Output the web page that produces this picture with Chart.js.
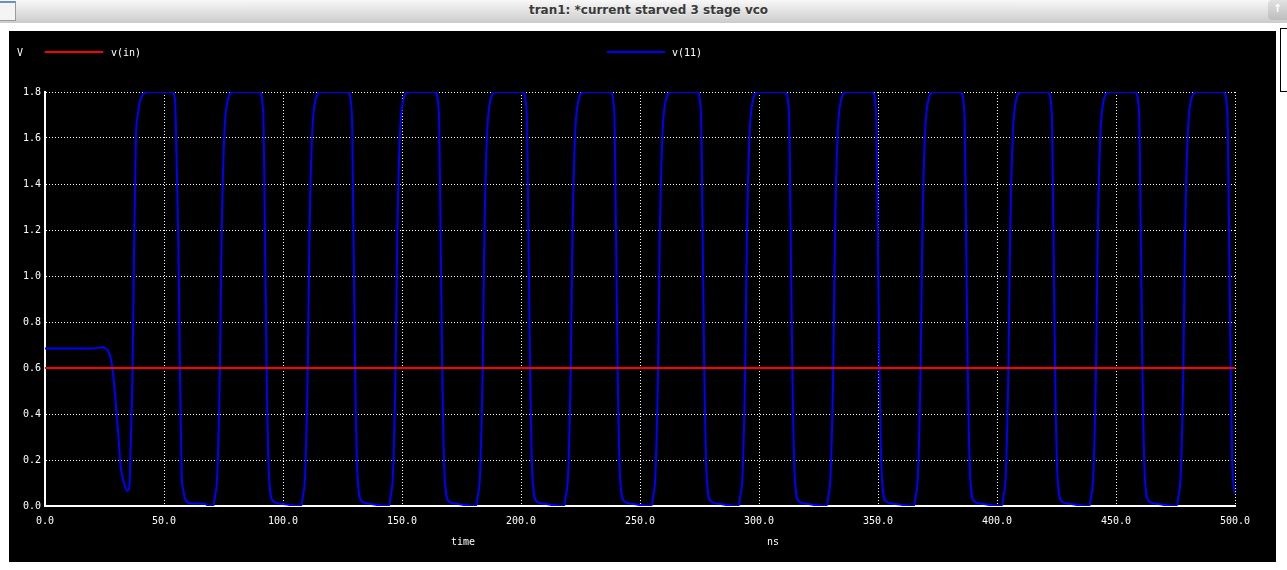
<!DOCTYPE html>
<html>
<head>
<meta charset="utf-8">
<title>tran1: *current starved 3 stage vco</title>
<script src="https://cdn.jsdelivr.net/npm/chart.js@4.4.1/dist/chart.umd.min.js"></script>
<style>
  html, body { margin: 0; padding: 0; background: #fff; width: 1287px; height: 570px; overflow: hidden; }
  #titlebar {
    position: absolute; left: 0; top: 0; width: 1287px; height: 23px;
    background: linear-gradient(#f8f8f8, #cbcbcb);
    font: bold 12px "DejaVu Sans", sans-serif; color: #3a3a3a;
    text-shadow: 0 1px 0 rgba(255,255,255,0.6);
    text-align: center; line-height: 21px; box-sizing: border-box; padding-left: 10px;
  }
  #winicon { position: absolute; left: 0; top: 1px; width: 15px; height: 17px; background: #f4f4f4; border: 1px solid #9a9a9a; border-left: none; border-top: 2px solid #6d8fc4; }
  #winbtn { position: absolute; left: 1268px; top: 0; width: 19px; height: 20px; background: linear-gradient(#e2e2e2, #bdbdbd); border-radius: 4px 0 0 4px; color: #fff; font: bold 11px "DejaVu Sans"; text-align: center; line-height: 18px; }
  #sidebox { position: absolute; left: 1280px; top: 28px; width: 7px; height: 62px; border: 1px solid #000; border-right: none; background: #fff; }
  #plot { position: absolute; left: 9px; top: 31px; width: 1267px; height: 531px; background: #000; }
</style>
</head>
<body>
<div id="titlebar">tran1: *current starved 3 stage vco</div>
<div id="winicon"></div>
<div id="winbtn">&#8593;</div>
<div id="sidebox"></div>
<div id="plot"><canvas id="vcoChart" width="1267" height="531"></canvas></div>
<script>
// tick labels
const xTicks = [0, 50, 100, 150, 200, 250, 300, 350, 400, 450, 500];
const yTicks = [0, 0.2, 0.4, 0.6, 0.8, 1.0, 1.2, 1.4, 1.6, 1.8];

// v(in): constant control voltage
const vinTime = [0, 500];
const vinVolt = [0.6, 0.6];

// v(11): oscillator output (ns, V)
const v11Time = [
  0, 19.6, 24.4, 26.0, 27.3, 28.3, 29.4, 30.1, 31.1, 31.8, 33.2, 34.6, 35.4, 36.0, 36.8, 37.4, 37.8, 38.2, 39.0, 39.9, 43.4,
  53.2, 54.6, 55.3, 56.0, 56.7, 57.4, 58.1, 58.8, 60.9, 67.2, 68.6,
  70.7, 71.4, 72.4, 73.5, 74.2, 75.2, 76.3, 79.1, 90.0, 91.7, 92.4, 93.1, 94.1, 95.9, 98.7,
  107.6, 108.3, 109.3, 110.4, 111.1, 112.1, 113.2, 116.0, 127.2, 128.9, 129.6, 130.3, 131.3, 133.1, 135.9,
  144.5, 145.2, 146.2, 147.3, 148.0, 149.0, 150.1, 152.9, 163.8, 165.5, 166.2, 166.9, 167.9, 169.7, 172.5,
  181.1, 181.8, 182.8, 183.9, 184.6, 185.6, 186.7, 189.5, 200.7, 202.4, 203.1, 203.8, 204.8, 206.6, 209.4,
  218.1, 218.8, 219.8, 220.9, 221.6, 222.6, 223.7, 226.5, 237.5, 239.2, 239.9, 240.6, 241.6, 243.4, 246.2,
  254.8, 255.5, 256.5, 257.6, 258.3, 259.3, 260.4, 263.2, 273.9, 275.6, 276.3, 277.0, 278.0, 279.8, 282.6,
  291.4, 292.1, 293.1, 294.2, 294.9, 295.9, 297.0, 299.8, 310.9, 312.6, 313.3, 314.0, 315.0, 316.8, 319.6,
  328.4, 329.1, 330.1, 331.2, 331.9, 332.9, 334.0, 336.8, 347.5, 349.2, 349.9, 350.6, 351.6, 353.4, 356.2,
  365.1, 365.8, 366.8, 367.9, 368.6, 369.6, 370.7, 373.5, 384.6, 386.3, 387.0, 387.7, 388.7, 390.5, 393.3,
  402.0, 402.7, 403.7, 404.8, 405.5, 406.5, 407.6, 410.4, 421.3, 423.0, 423.7, 424.4, 425.4, 427.2, 430.0,
  438.8, 439.5, 440.5, 441.6, 442.3, 443.3, 444.4, 447.2, 458.0, 459.7, 460.4, 461.1, 462.1, 463.9, 466.7,
  475.5, 476.2, 477.2, 478.3, 479.0, 480.0, 481.1, 483.9, 495.1, 496.8, 497.5, 498.2, 498.8, 499.3, 500.0
];
const v11Volt = [
  0.685, 0.685, 0.69, 0.68, 0.656, 0.6, 0.49, 0.40, 0.27, 0.17, 0.10, 0.065, 0.08, 0.26, 0.6, 1.1, 1.35, 1.6, 1.70, 1.76, 1.8,
  1.8, 1.77, 1.5, 1.16, 0.6, 0.14, 0.07, 0.033, 0.012, 0.01, 0.0,
  0, 0.04, 0.14, 0.6, 1.16, 1.58, 1.74, 1.8, 1.8, 1.71, 1.2, 0.6, 0.13, 0.02, 0.01,
  0, 0.04, 0.14, 0.6, 1.16, 1.58, 1.74, 1.8, 1.8, 1.71, 1.2, 0.6, 0.13, 0.02, 0.01,
  0, 0.04, 0.14, 0.6, 1.16, 1.58, 1.74, 1.8, 1.8, 1.71, 1.2, 0.6, 0.13, 0.02, 0.01,
  0, 0.04, 0.14, 0.6, 1.16, 1.58, 1.74, 1.8, 1.8, 1.71, 1.2, 0.6, 0.13, 0.02, 0.01,
  0, 0.04, 0.14, 0.6, 1.16, 1.58, 1.74, 1.8, 1.8, 1.71, 1.2, 0.6, 0.13, 0.02, 0.01,
  0, 0.04, 0.14, 0.6, 1.16, 1.58, 1.74, 1.8, 1.8, 1.71, 1.2, 0.6, 0.13, 0.02, 0.01,
  0, 0.04, 0.14, 0.6, 1.16, 1.58, 1.74, 1.8, 1.8, 1.71, 1.2, 0.6, 0.13, 0.02, 0.01,
  0, 0.04, 0.14, 0.6, 1.16, 1.58, 1.74, 1.8, 1.8, 1.71, 1.2, 0.6, 0.13, 0.02, 0.01,
  0, 0.04, 0.14, 0.6, 1.16, 1.58, 1.74, 1.8, 1.8, 1.71, 1.2, 0.6, 0.13, 0.02, 0.01,
  0, 0.04, 0.14, 0.6, 1.16, 1.58, 1.74, 1.8, 1.8, 1.71, 1.2, 0.6, 0.13, 0.02, 0.01,
  0, 0.04, 0.14, 0.6, 1.16, 1.58, 1.74, 1.8, 1.8, 1.71, 1.2, 0.6, 0.13, 0.02, 0.01,
  0, 0.04, 0.14, 0.6, 1.16, 1.58, 1.74, 1.8, 1.8, 1.71, 1.2, 0.6, 0.2, 0.1, 0.05
];

const MONO = '"DejaVu Sans Mono", monospace';

// legend row and axis captions, placed like the ngspice plot window
const plotText = {
  id: 'plotText',
  afterDraw(chart) {
    const ctx = chart.ctx;
    ctx.save();
    ctx.font = '10px ' + MONO;
    ctx.fillStyle = '#fff';
    ctx.textBaseline = 'middle';
    ctx.textAlign = 'left';
    ctx.fillText('V', 8, 22);
    ctx.lineWidth = 2;
    ctx.strokeStyle = '#ff0000';
    ctx.beginPath(); ctx.moveTo(36, 21); ctx.lineTo(94, 21); ctx.stroke();
    ctx.fillText('v(in)', 102, 22);
    ctx.strokeStyle = '#0000ff';
    ctx.beginPath(); ctx.moveTo(598, 21); ctx.lineTo(656, 21); ctx.stroke();
    ctx.fillText('v(11)', 663, 22);
    ctx.textAlign = 'center';
    ctx.fillText('time', 454, 511);
    ctx.fillText('ns', 764, 511);
    ctx.restore();
  }
};

const ctxVco = document.getElementById('vcoChart').getContext('2d');
new Chart(ctxVco, {
  type: 'line',
  data: {
    datasets: [
      {
        label: 'v(in)',
        data: vinTime.map((t, i) => ({ x: t, y: vinVolt[i] })),
        borderColor: '#ff0000',
        borderWidth: 2,
        pointRadius: 0
      },
      {
        label: 'v(11)',
        data: v11Time.map((t, i) => ({ x: t, y: v11Volt[i] })),
        borderColor: '#0000ff',
        borderWidth: 2,
        pointRadius: 0,
        cubicInterpolationMode: 'monotone'
      }
    ]
  },
  options: {
    responsive: false,
    animation: false,
    devicePixelRatio: 1,
    layout: { padding: { top: 61, right: 41, left: 0, bottom: 0 } },
    plugins: { legend: { display: false }, tooltip: { enabled: false } },
    scales: {
      x: {
        type: 'linear',
        min: 0,
        max: 500,
        afterBuildTicks: s => { s.ticks = xTicks.map(v => ({ value: v })); },
        afterFit: s => { s.height = 56; },
        grid: { color: '#ffffff', lineWidth: 1, drawTicks: false },
        border: { color: '#ffffff', width: 2, dash: [1, 2] },
        ticks: {
          color: '#ffffff', padding: 9, maxRotation: 0, autoSkip: false,
          font: { family: MONO, size: 10 },
          callback: v => Number(v).toFixed(1)
        }
      },
      y: {
        min: 0,
        max: 1.8,
        afterBuildTicks: s => { s.ticks = yTicks.map(v => ({ value: v })); },
        afterFit: s => { s.width = 36; },
        grid: { color: '#ffffff', lineWidth: 1, drawTicks: false },
        border: { color: '#ffffff', width: 2, dash: [1, 2] },
        ticks: {
          color: '#ffffff', padding: 4,
          font: { family: MONO, size: 10 },
          callback: v => Number(v).toFixed(1)
        }
      }
    }
  },
  plugins: [plotText]
});
</script>
</body>
</html>
